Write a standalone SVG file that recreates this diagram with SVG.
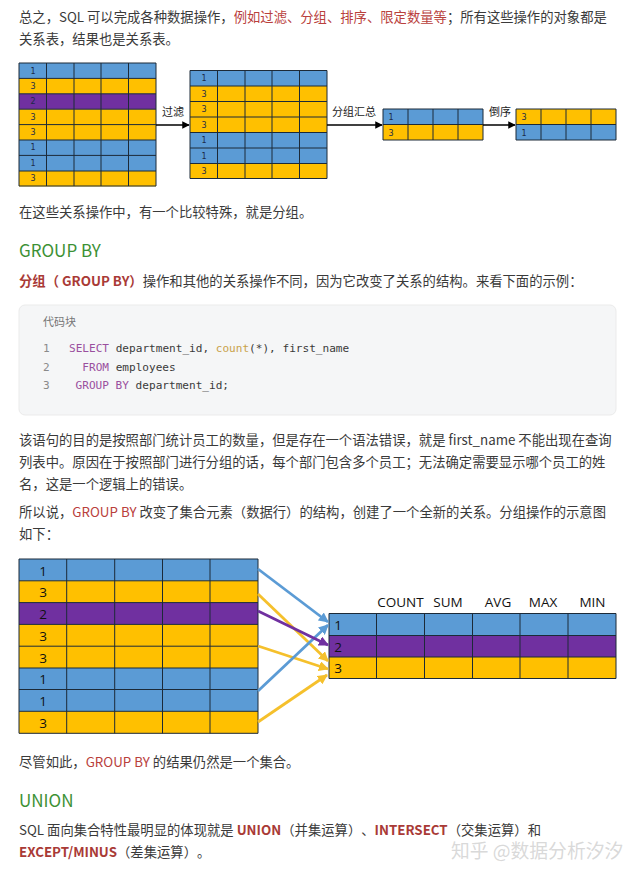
<svg xmlns="http://www.w3.org/2000/svg" width="636" height="878" viewBox="0 0 636 878">
<style>
text{font-family:"Noto Sans CJK SC","Noto Sans",sans-serif;text-spacing-trim:space-all;}
.p{font-size:13.33px;fill:#3a3a3a}
.r{fill:#b9403c}
.b{font-weight:700;fill:#a93a36}
.h{font-size:17px;fill:#3c9135}
.c{font-family:"DejaVu Sans Mono",monospace;font-size:11.08px;fill:#3a3a3a;white-space:pre}
.n{fill:#8a8a8a}
.k{fill:#9a4f9e}
.f{fill:#c9a24a}
.bl{fill:#5b9bd5}.ye{fill:#ffc000}.pu{fill:#7030a0}
.g{fill:none;stroke:#1c2a38;stroke-width:1}
.t{font-family:"DejaVu Sans",sans-serif;font-size:8px;fill:#1c2a48;text-anchor:middle}
.T{font-family:"Open Sans",sans-serif;font-size:13.500px;fill:#111;text-anchor:middle}
.l{font-size:11px;fill:#222;text-anchor:middle}
.ln{fill:none;stroke-width:2.800}
.wm{font-size:18.800px;fill:#cfcfcf;fill-opacity:.8}
</style>
<defs>
<marker id="a" viewBox="0 0 10 10" refX="9" refY="5" markerWidth="5" markerHeight="5" orient="auto"><path d="M0 0L10 5L0 10z" fill="#000"/></marker>
<marker id="mb" viewBox="0 0 10 10" refX="9" refY="5" markerWidth="3.600" markerHeight="3.600" orient="auto"><path d="M0 0L10 5L0 10z" fill="#5b9bd5"/></marker>
<marker id="my" viewBox="0 0 10 10" refX="9" refY="5" markerWidth="3.600" markerHeight="3.600" orient="auto"><path d="M0 0L10 5L0 10z" fill="#f5c02c"/></marker>
<marker id="mp" viewBox="0 0 10 10" refX="9" refY="5" markerWidth="3.600" markerHeight="3.600" orient="auto"><path d="M0 0L10 5L0 10z" fill="#7030a0"/></marker>
</defs>

<g id="intro">
<text class="p" x="19" y="22">总之，SQL 可以完成各种数据操作，<tspan class="r">例如过滤、分组、排序、限定数量等</tspan>；所有这些操作的对象都是</text>
<text class="p" x="19" y="44">关系表，结果也是关系表。</text>
</g>

<g id="table-source">
<rect class="bl" x="19" y="63" width="137" height="15.4"/>
<rect class="ye" x="19" y="78.4" width="137" height="15.4"/>
<rect class="pu" x="19" y="93.8" width="137" height="15.4"/>
<rect class="ye" x="19" y="109.2" width="137" height="30.8"/>
<rect class="bl" x="19" y="140" width="137" height="31"/>
<rect class="ye" x="19" y="171" width="137" height="15.4"/>
<path class="g" d="M19 63H156V186H19ZM19 78.4H156M19 93.8H156M19 109.2H156M19 124.6H156M19 140H156M19 155.4H156M19 171H156M46.500 63V186M74 63V186M101 63V186M128.500 63V186"/>
<text class="t" x="33" y="73.500">1</text><text class="t" x="33" y="89">3</text><text class="t" x="33" y="104">2</text><text class="t" x="33" y="120">3</text><text class="t" x="33" y="135">3</text><text class="t" x="33" y="150">1</text><text class="t" x="33" y="166">1</text><text class="t" x="33" y="181">3</text>
</g>

<g id="table-filtered">
<rect class="bl" x="190" y="70.500" width="137" height="15.500"/>
<rect class="ye" x="190" y="86" width="137" height="46.500"/>
<rect class="bl" x="190" y="132.500" width="137" height="31"/>
<rect class="ye" x="190" y="163.500" width="137" height="15"/>
<path class="g" d="M190 70.500H327V178.500H190ZM190 86H327M190 101.500H327M190 117H327M190 132.500H327M190 148H327M190 163.500H327M217.500 70.500V178.500M245 70.500V178.500M272 70.500V178.500M299.500 70.500V178.500"/>
<text class="t" x="204" y="81">1</text><text class="t" x="204" y="96.500">3</text><text class="t" x="204" y="112">3</text><text class="t" x="204" y="127.500">3</text><text class="t" x="204" y="143">1</text><text class="t" x="204" y="158.500">1</text><text class="t" x="204" y="174">3</text>
</g>

<g id="table-grouped">
<rect class="bl" x="383" y="109" width="100" height="15.500"/>
<rect class="ye" x="383" y="124.500" width="100" height="15.500"/>
<path class="g" d="M383 109H483V140H383ZM383 124.500H483M408 109V140M433 109V140M458 109V140"/>
<text class="t" x="391" y="120">1</text><text class="t" x="391" y="135.500">3</text>
</g>

<g id="table-sorted">
<rect class="ye" x="516" y="109" width="100" height="15.500"/>
<rect class="bl" x="516" y="124.500" width="100" height="15.500"/>
<path class="g" d="M516 109H616V140H516ZM516 124.500H616M541 109V140M566 109V140M591 109V140"/>
<text class="t" x="524" y="120">3</text><text class="t" x="524" y="135.500">1</text>
</g>

<g id="connectors-top">
<path d="M156 125H189" stroke="#000" stroke-width="1.500" fill="none" marker-end="url(#a)"/>
<path d="M327 125H382" stroke="#000" stroke-width="1.500" fill="none" marker-end="url(#a)"/>
<path d="M483 125H515" stroke="#000" stroke-width="1.500" fill="none" marker-end="url(#a)"/>
<text class="l" x="173" y="115.500">过滤</text>
<text class="l" x="354" y="115.500">分组汇总</text>
<text class="l" x="500" y="115.500">倒序</text>
</g>

<g id="para2">
<text class="p" x="19" y="217">在这些关系操作中，有一个比较特殊，就是分组。</text>
<text class="h" x="19" y="257">GROUP BY</text>
<text class="p" x="19" y="286"><tspan class="b">分组（ GROUP BY）</tspan>操作和其他的关系操作不同，因为它改变了关系的结构。来看下面的示例：</text>
</g>

<g id="code-block">
<rect x="19" y="305" width="597" height="110" rx="6" fill="#f5f6f7" stroke="#ebebeb"/>
<text x="43" y="326" font-size="11" fill="#777">代码块</text>
<text class="c n" x="43" y="352">1</text>
<text class="c n" x="43" y="370.500">2</text>
<text class="c n" x="43" y="388.500">3</text>
<text class="c" x="69" y="352"><tspan class="k">SELECT</tspan> department_id, <tspan class="f">count</tspan>(*), first_name</text>
<text class="c" x="82.300" y="370.500"><tspan class="k">FROM</tspan> employees</text>
<text class="c" x="75.600" y="388.500"><tspan class="k">GROUP BY</tspan> department_id;</text>
</g>

<g id="para3">
<text class="p" x="19" y="445">该语句的目的是按照部门统计员工的数量，但是存在一个语法错误，就是 first_name 不能出现在查询</text>
<text class="p" x="19" y="467">列表中。原因在于按照部门进行分组的话，每个部门包含多个员工；无法确定需要显示哪个员工的姓</text>
<text class="p" x="19" y="489">名，这是一个逻辑上的错误。</text>
<text class="p" x="19" y="517">所以说，<tspan class="r">GROUP BY</tspan> 改变了集合元素（数据行）的结构，创建了一个全新的关系。分组操作的示意图</text>
<text class="p" x="19" y="538.500">如下：</text>
</g>

<g id="table-big">
<rect class="bl" x="19" y="559" width="239" height="21.800"/>
<rect class="ye" x="19" y="580.800" width="239" height="21.800"/>
<rect class="pu" x="19" y="602.600" width="239" height="21.800"/>
<rect class="ye" x="19" y="624.400" width="239" height="43.600"/>
<rect class="bl" x="19" y="668" width="239" height="43.300"/>
<rect class="ye" x="19" y="711.300" width="239" height="22"/>
<path class="g" d="M19 559H258V733.300H19ZM19 580.800H258M19 602.600H258M19 624.400H258M19 646.200H258M19 668H258M19 689.500H258M19 711.300H258M66.700 559V733.300M114.700 559V733.300M162.500 559V733.300M210 559V733.300"/>
<text class="T" x="43" y="575.500">1</text><text class="T" x="43" y="597">3</text><text class="T" x="43" y="618.500">2</text><text class="T" x="43" y="640.500">3</text><text class="T" x="43" y="662.500">3</text><text class="T" x="43" y="684">1</text><text class="T" x="43" y="706">1</text><text class="T" x="43" y="727.500">3</text>
</g>

<g id="table-result">
<rect class="bl" x="329" y="613.500" width="287" height="22"/>
<rect class="pu" x="329" y="635.500" width="287" height="21.500"/>
<rect class="ye" x="329" y="657" width="287" height="21.500"/>
<path class="g" d="M329 613.500H616V678.500H329ZM329 635.500H616M329 657H616M376.500 613.500V678.500M424.500 613.500V678.500M472.500 613.500V678.500M520 613.500V678.500M568 613.500V678.500"/>
<text class="T" x="338" y="630">1</text><text class="T" x="338" y="651.500">2</text><text class="T" x="338" y="673">3</text>
<text class="T" x="400.500" y="606.500">COUNT</text><text class="T" x="448" y="606.500">SUM</text><text class="T" x="498" y="606.500">AVG</text><text class="T" x="543" y="606.500">MAX</text><text class="T" x="592.500" y="606.500">MIN</text>
</g>

<g id="connectors-big">
<path class="ln" stroke="#f5c02c" d="M258 594L328 661" marker-end="url(#my)"/>
<path class="ln" stroke="#f5c02c" d="M258 646L328 669" marker-end="url(#my)"/>
<path class="ln" stroke="#f5c02c" d="M258 722L327 675" marker-end="url(#my)"/>
<path class="ln" stroke="#5b9bd5" d="M258 569L328 622" marker-end="url(#mb)"/>
<path class="ln" stroke="#5b9bd5" d="M258 691L328 625" marker-end="url(#mb)"/>
<path class="ln" stroke="#7030a0" d="M258 611L328 645" marker-end="url(#mp)"/>
</g>

<g id="tail">
<text class="p" x="19" y="767">尽管如此，<tspan class="r">GROUP BY</tspan> 的结果仍然是一个集合。</text>
<text class="h" x="19" y="807">UNION</text>
<text class="p" x="19" y="835">SQL 面向集合特性最明显的体现就是 <tspan class="b">UNION</tspan>（并集运算）、<tspan class="b">INTERSECT</tspan>（交集运算）和</text>
<text class="p" x="19" y="857"><tspan class="b">EXCEPT/MINUS</tspan>（差集运算）。</text>
<text class="wm" x="451" y="858">知乎 @数据分析汐汐</text>
</g>
</svg>
